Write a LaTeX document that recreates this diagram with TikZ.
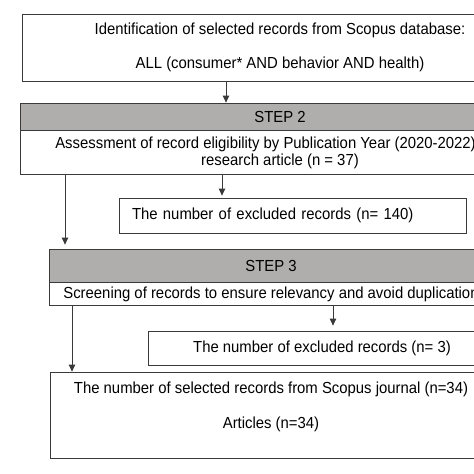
\documentclass[tikz,border=0pt]{standalone}
\usepackage{fontspec}
\setmainfont{Liberation Sans}[FakeStretch=0.93]
\usetikzlibrary{arrows.meta, positioning}
\definecolor{lineDark}{HTML}{3A3A3A}
\definecolor{stepGray}{HTML}{B0ADAD}
\tikzset{
  arrowK/.style={-{Triangle[length=7pt,width=6.5pt]}, lineDark, line width=0.8pt},
  boxW/.style={rectangle, draw=lineDark, fill=white, line width=0.8pt,
               align=center, inner sep=0pt},
  boxStep/.style={rectangle, draw=lineDark, fill=stepGray, line width=0.8pt,
                  align=center, inner sep=0pt},
}

\begin{document}
\begin{tikzpicture}[x=1pt, y=-1pt, font=\fontsize{16}{16.5}\selectfont]
    \useasboundingbox (0,0) rectangle (474,474);
    \clip (0,0) rectangle (474,474);
    % identification
    \node[boxW, minimum width=516pt, minimum height=67pt] (ident) at (280,47.5)
      {Identification of selected records from Scopus database:\\[17.5pt]ALL (consumer* AND behavior AND health)};
    % step 2
    \node[boxStep, minimum width=520pt, minimum height=27pt] (step2) at (280,116.5) {STEP 2};
    \node[boxW, minimum width=520pt, minimum height=44pt, below=0pt of step2] (elig)
      {Assessment of record eligibility by Publication Year (2020-2022) and\\research article (n = 37)};
    \node[boxW, minimum width=347pt, minimum height=35pt, text width=321pt,
          align=left, inner xsep=13pt] (excl1) at (292.5,215.5)
      {The number of excluded records (n= 140)};
    % step 3
    \node[boxStep, minimum width=444pt, minimum height=33pt] (step3) at (271,265.5) {STEP 3};
    \node[boxW, minimum width=444pt, minimum height=23pt, below=0pt of step3] (screen)
      {Screening of records to ensure relevancy and avoid duplication};
    \node[boxW, minimum width=348pt, minimum height=34pt] (excl2) at (322,348)
      {The number of excluded records (n= 3)};
    % result
    \node[boxW, minimum width=442pt, minimum height=86pt, text height=56.5pt,
          text depth=29.5pt] (final) at (271,415)
      {The number of selected records from Scopus journal (n=34)\\[18.5pt]Articles (n=34)};
    % arrows
    \coordinate (a1) at ([xshift=-54pt]ident.south);
    \coordinate (a2) at ([xshift=-58pt]elig.south);
    \coordinate (a3) at ([xshift=-215pt]elig.south);
    \coordinate (a4) at ([xshift=62pt]screen.south);
    \coordinate (a5) at ([xshift=-199pt]screen.south);
    \draw[arrowK] (a1) -- (a1 |- step2.north);
    \draw[arrowK, shorten >=2pt] (a2) -- (a2 |- excl1.north);
    \draw[arrowK, shorten >=4pt] (a3) -- (a3 |- step3.north);
    \draw[arrowK, shorten >=5pt] (a4) -- (a4 |- excl2.north);
    \draw[arrowK] (a5) -- (a5 |- final.north);
\end{tikzpicture}
\end{document}
